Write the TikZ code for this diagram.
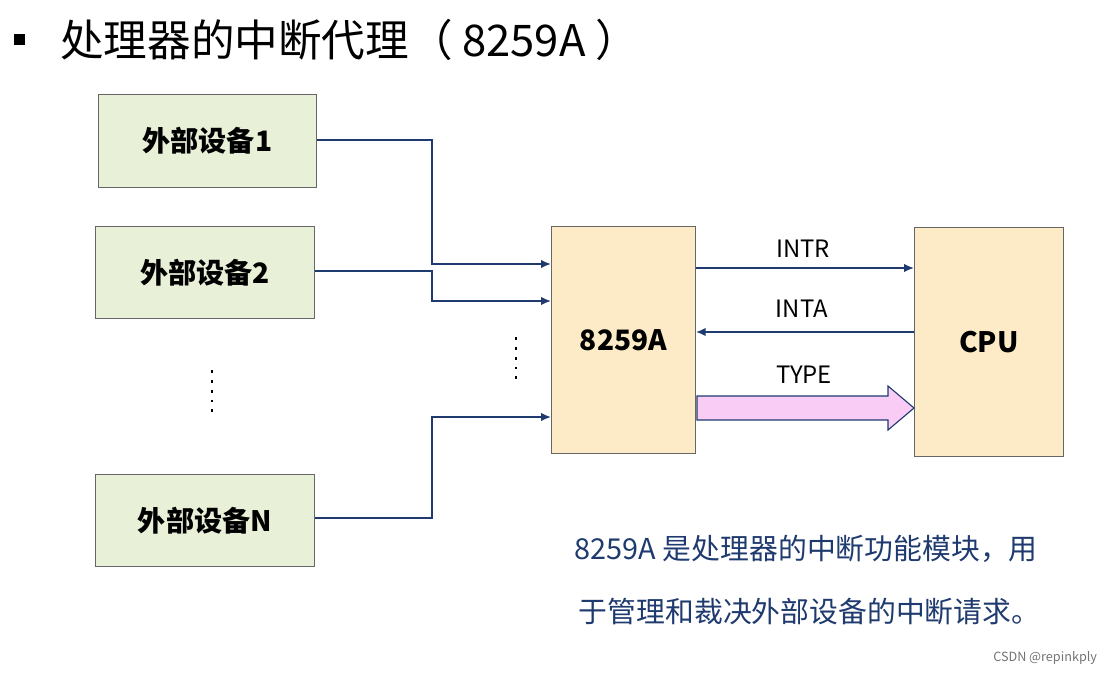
\documentclass[tikz,border=0pt]{standalone}
\usepackage{fontspec}
\setmainfont{Noto Sans CJK SC}
\usetikzlibrary{arrows.meta}
\definecolor{gbox}{HTML}{E8F0D8}
\definecolor{ybox}{HTML}{FCEBC6}
\definecolor{navy}{HTML}{1F3A6E}
\definecolor{pinkf}{HTML}{F9CCF5}
\begin{document}
\begin{tikzpicture}[x=0.025cm,y=-0.025cm,
 box/.style={draw=black!60,line width=0.6pt,inner sep=0pt,anchor=north west,font=\fontsize{20}{24}\selectfont\bfseries},
 con/.style={navy,line width=1.2pt,-{Latex[length=7pt,width=6pt]}},
 lbl/.style={font=\fontsize{17}{20}\selectfont}]
\useasboundingbox (0,0) rectangle (1116,675);
\fill (14,34) rectangle (25,45);
\node[anchor=west,inner sep=0pt,font=\fontsize{31}{36}\selectfont] (title) at (60,40) {处理器的中断代理（ 8259A ）};
\node[box,fill=gbox,minimum width=218*0.025cm,minimum height=93*0.025cm] (d1) at (98,94) {外部设备1};
\node[box,fill=gbox,minimum width=219*0.025cm,minimum height=92*0.025cm] (d2) at (95,226) {外部设备2};
\node[box,fill=gbox,minimum width=219*0.025cm,minimum height=92*0.025cm] (dn) at (95,474) {外部设备N};
\node[box,fill=ybox,minimum width=144*0.025cm,minimum height=227*0.025cm] (a) at (551,226) {8259A};
\node[box,fill=ybox,minimum width=149*0.025cm,minimum height=229*0.025cm] (cpu) at (914,227) {CPU};
\draw[con] (d1.east |- 0,140) -- (432,140) -- (432,264) -- (a.west |- 0,264);
\draw[con] (d2.east |- 0,271) -- (432,271) -- (432,301) -- (a.west |- 0,301);
\draw[con] (dn.east |- 0,518) -- (432,518) -- (432,417) -- (a.west |- 0,417);
\draw[con] (a.east |- 0,268) -- (cpu.west |- 0,268);
\draw[con] (cpu.west |- 0,332) -- (a.east |- 0,332);
\node[lbl] (intr) at (803,249) {INTR};
\node[lbl] (inta) at (802,309) {INTA};
\node[lbl] (type) at (804,375) {TYPE};
\draw[navy,fill=pinkf,line width=0.8pt] (697,396) -- (888,396) -- (888,386) -- (914,408) -- (888,430) -- (888,420) -- (697,420) -- cycle;
\draw[line width=1.4pt,dash pattern=on 2pt off 5pt] (212,370) -- (212,418);
\draw[line width=1.4pt,dash pattern=on 2pt off 5pt] (516,337) -- (516,384);
\node[anchor=west,navy,font=\fontsize{20.5}{24}\selectfont] (t1) at (570,549) {8259A 是处理器的中断功能模块，用};
\node[anchor=west,navy,font=\fontsize{20.5}{24}\selectfont] (t2) at (574,612) {于管理和裁决外部设备的中断请求。};
\node[anchor=east,black!55,font=\fontsize{9}{11}\selectfont] (wm) at (1102,658) {CSDN @repinkply};
\end{tikzpicture}
\end{document}
